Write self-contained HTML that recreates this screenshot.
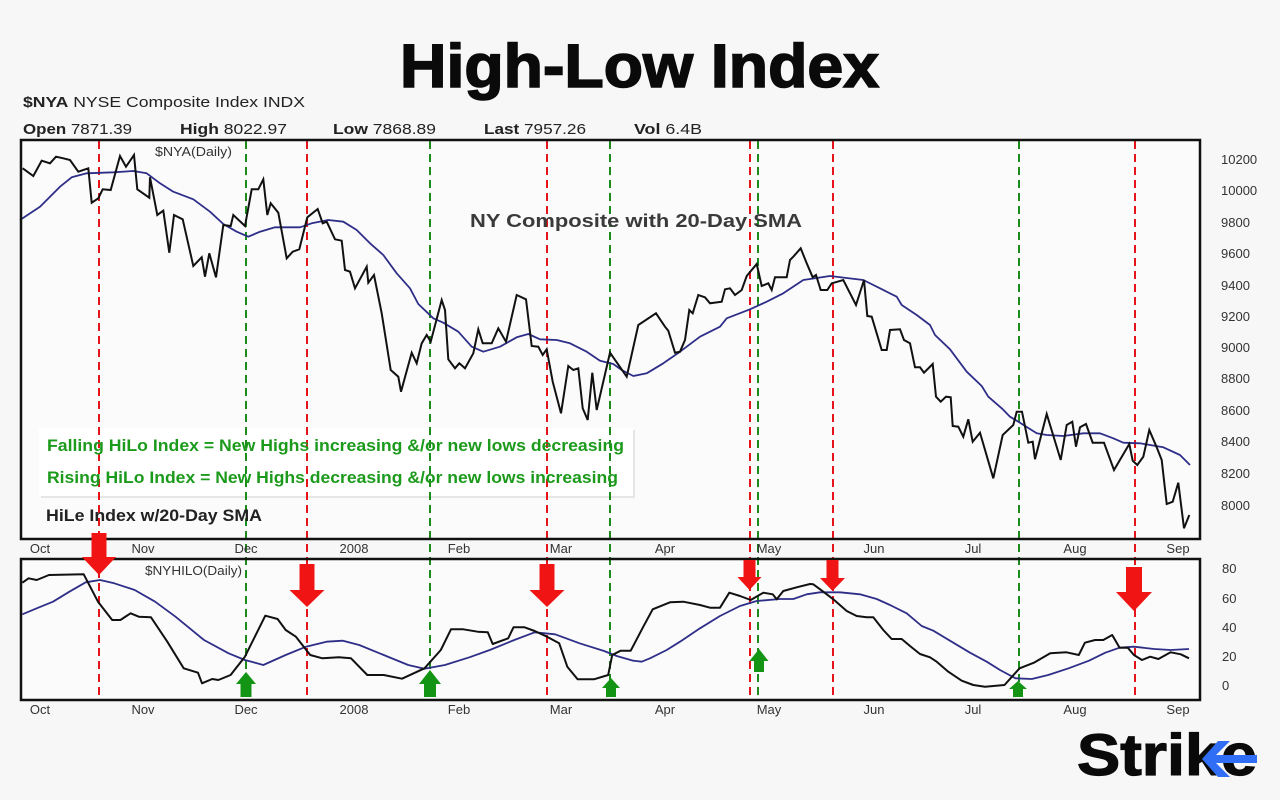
<!DOCTYPE html>
<html><head><meta charset="utf-8"><style>
html,body{margin:0;padding:0;background:#f7f7f8;}
svg{display:block;}
text{font-family:"Liberation Sans",Arial,sans-serif;}
</style></head><body>
<svg width="1280" height="800" viewBox="0 0 1280 800" xmlns="http://www.w3.org/2000/svg">
<rect x="0" y="0" width="1280" height="800" fill="#f7f7f8"/>
<!-- Title -->
<text x="400" y="87" font-size="61" font-weight="bold" fill="#0a0a0a" stroke="#0a0a0a" stroke-width="1.6" textLength="479" lengthAdjust="spacingAndGlyphs">High-Low Index</text>
<!-- Header -->
<text x="23" y="107" font-size="15" fill="#222" textLength="282" lengthAdjust="spacingAndGlyphs"><tspan font-weight="bold">$NYA</tspan> NYSE Composite Index INDX</text>
<text x="23" y="134" font-size="15" fill="#222" textLength="109" lengthAdjust="spacingAndGlyphs"><tspan font-weight="bold">Open</tspan> 7871.39</text>
<text x="180" y="134" font-size="15" fill="#222" textLength="107" lengthAdjust="spacingAndGlyphs"><tspan font-weight="bold">High</tspan> 8022.97</text>
<text x="333" y="134" font-size="15" fill="#222" textLength="103" lengthAdjust="spacingAndGlyphs"><tspan font-weight="bold">Low</tspan> 7868.89</text>
<text x="484" y="134" font-size="15" fill="#222" textLength="102" lengthAdjust="spacingAndGlyphs"><tspan font-weight="bold">Last</tspan> 7957.26</text>
<text x="634" y="134" font-size="15" fill="#222" textLength="68" lengthAdjust="spacingAndGlyphs"><tspan font-weight="bold">Vol</tspan> 6.4B</text>

<!-- chart backgrounds -->
<rect x="21" y="140" width="1179" height="399" fill="#fbfbfb"/>
<rect x="21" y="559" width="1179" height="141" fill="#fbfbfb"/>

<!-- legend box -->
<rect x="41" y="430" width="594" height="68" fill="#e6e6e6"/>
<rect x="39" y="428" width="594" height="68" fill="#ffffff"/>

<!-- dashed lines -->
<g stroke-width="2" stroke-dasharray="8 5" fill="none">
<line x1="99" y1="141" x2="99" y2="699" stroke="#e5141b"/>
<line x1="307" y1="141" x2="307" y2="699" stroke="#e5141b"/>
<line x1="547" y1="141" x2="547" y2="699" stroke="#e5141b"/>
<line x1="750" y1="141" x2="750" y2="699" stroke="#e5141b"/>
<line x1="833" y1="141" x2="833" y2="699" stroke="#e5141b"/>
<line x1="1135" y1="141" x2="1135" y2="699" stroke="#e5141b"/>
<line x1="246" y1="141" x2="246" y2="699" stroke="#1b8c1b"/>
<line x1="430" y1="141" x2="430" y2="699" stroke="#1b8c1b"/>
<line x1="610" y1="141" x2="610" y2="699" stroke="#1b8c1b"/>
<line x1="758" y1="141" x2="758" y2="699" stroke="#1b8c1b"/>
<line x1="1019" y1="141" x2="1019" y2="699" stroke="#1b8c1b"/>
</g>

<!-- top chart series -->
<polyline fill="none" stroke="#2e2e88" stroke-width="1.8" stroke-linejoin="round" points="20,220 40,206.7 60,186.7 71.7,177.3 86.7,173.3 113.3,172.3 133.3,171 146.7,173.3 160,183.3 173.3,191.7 193.3,199.3 210,211.7 223.3,224 236.7,231.7 248.3,236.7 260,231.7 275,227.3 300,227.3 311.7,223.3 328.3,220 343.3,221.7 356.7,230 370,243.3 383.3,255 396.7,273.3 410,288.3 418.3,304 433.3,318.3 443.3,322.7 458.3,331.7 471.7,346.7 483.3,351.7 500,346.7 516.7,337.3 528.3,334 540,339.3 556.7,340 570,343.3 586.7,351.7 600,360.7 613.3,364 621.7,370 633.3,376 646.7,373.3 663.3,363.3 680,351.7 700,336.7 720,326.7 726.7,318.3 750,309.3 766.7,301.7 783.3,293.3 803.3,280 830,276 863.3,280 880,288.3 896.7,296.7 901.7,305 916.7,315 930,325 935,335 950,349.3 966.7,371.7 981.7,386 988.3,396.7 1001.7,408.3 1010,416.7 1020,422.7 1036.7,433.3 1046.7,435 1063.3,436 1083.3,433.3 1100,433.3 1113.3,438.3 1123.3,442.7 1140,443.3 1163.3,447.3 1180,455 1190,465"/>
<polyline fill="none" stroke="#111" stroke-width="2" stroke-linejoin="miter" points="22.7,168.3 33.3,176 41.7,160.7 50,163.3 56,156.7 63.3,158.3 70,160 78.3,171.7 88.3,168.3 91.7,202.7 98.3,198.3 102.7,189.3 110.7,190 120,156 126,166.7 134,155 137.3,189.3 149.3,197.7 150,177.3 157.3,215 163.3,210.7 169.3,252.7 174,215 182.7,219.3 193.3,266 201.7,257.3 205,276.7 209.3,253.3 216,277.3 223.3,225 230.7,226 233.3,215 245,226 251.7,189.3 258.3,189.3 263.3,179.3 267.3,215 270.7,203.3 278.3,212.7 286.7,258.3 292.7,251.7 299.3,249.3 307.3,217.3 317.7,209 322.7,223.3 326.7,221.7 335,239.3 341.7,240.7 345,270 350,271.7 355,288.3 366.7,266.7 368.3,282.7 374,275 381.7,313.3 390.7,370 398.3,376.7 401,391.7 411.7,352.7 416.7,363.3 421.7,343.3 426.7,335 430.7,341.7 441.7,300 445,310 448.3,359.3 455,368.3 459.3,363.3 465,368.3 473.3,353.3 478.3,329.3 482.7,343.3 491.7,343.3 498.3,328.3 506,341.7 516.7,295 526,299.3 531.7,346 538.3,346.7 542.7,355 546.7,349.3 552.7,381.7 561,413.3 568.3,366 573.3,370 578.3,368.3 582.7,408.3 587.7,420 592.3,372.7 596.7,410 610,352.7 626.7,376.7 638.3,325 656,313.3 665,326.7 668.3,330.7 675,352.7 680,351.7 685,340 689.3,310 692.7,313.3 698.3,295 705,297.3 710,303.3 721.7,301.7 725,289.3 730,288.3 735,295 741.7,290 746.7,276 756.7,264 761.7,286 768.3,283.3 771.7,290 775,277.3 786.7,277.3 790,260 793.3,256.7 800.7,248.3 806.7,263.3 812.7,277.3 816,275 820.7,290 827.3,290 831.7,283.3 843.3,280 856,305 864,280 867.3,316 871.7,316.7 881.7,350 886.7,350 890,330 900,329.3 904,340 910,343.3 915,367.3 920,367.3 924,372.7 932.7,364 936,396.7 940.7,401.7 946,396.7 950.7,397.3 952.7,426 958.3,426.7 963.3,436.7 968.3,419.3 972.7,441.7 980,432.7 993.3,478.3 1002.7,435 1013.3,425 1016.7,411.7 1022,411.7 1028.3,442.7 1032.7,441.7 1035,459.3 1046.7,414 1060.7,460 1066.7,425 1072.3,421.7 1076,446.7 1080,427.3 1086,424 1092.7,442.7 1104,442.7 1114,470 1129.3,444 1132.7,460.7 1137.3,465 1143.3,456.7 1149.3,430 1156.7,447.3 1161.7,460 1166.7,504 1172.7,501.7 1178.3,482.7 1184,528.3 1189.3,515"/>

<!-- bottom chart series -->
<polyline fill="none" stroke="#2e2e88" stroke-width="1.8" stroke-linejoin="round" points="22.4,614.3 36.7,608.3 53,601.7 69.4,591.7 85.7,582.3 100,580 114.3,583.3 134.7,590 155.1,601.7 175.5,616.7 204,640 228.6,653.3 244.9,660 263.3,665 285.7,655 306,646.7 326.5,641.7 342.9,640.7 359.2,645 383.7,655 408.2,665 424.5,668.7 444.9,665 469.4,657.3 489.8,650 514.3,640 534.7,632.3 555.1,634.3 579.6,643.3 604.1,651 616.7,656 633.3,660.7 641.7,661.7 650,658.3 666.7,650 680,641.7 700,628.3 720,616 740,606 756.7,601 780,599 793.3,599 806.7,594.3 820,592.3 840,592.3 860,594.3 876.7,599 890,605 906.7,613.3 921.7,626 933.3,630.7 953.3,642.7 970,652.7 986.7,661.7 1000,670 1015.5,678.3 1031.8,679 1048.2,675 1068.6,668.3 1089,660.7 1105.3,652.7 1119.6,647.7 1133.9,646.7 1154.3,649 1170.6,650 1189,649"/>
<polyline fill="none" stroke="#111" stroke-width="2" stroke-linejoin="round" points="22.4,582.7 28.6,578.3 36.7,580 49,575 83.7,574.3 98,601.7 112.2,620 120.4,620 130.6,613.3 138.8,616.7 151,617.3 167.3,641.7 183.7,668.3 198,672.7 202,683.3 212.2,679 218.4,680 230.6,675 244.9,656.7 265.3,615.7 277.6,619 285.7,630 295.9,636.7 310.2,655 322.4,658.3 338.8,657.3 351,658.3 367.3,675 383.7,675 402,678.7 424.5,668.3 440.8,650 451,629.3 463.3,629.3 477.6,631.7 487.8,632.3 492.7,644 508.2,638.3 513.5,627.3 524.5,627.3 534.7,631 547,636.7 559.2,643.3 567.3,666.7 577.6,679.3 593.9,679.3 608.2,675 612.2,655 620.7,650.7 630.7,650.7 643.3,626.7 652.7,609.3 670,602.3 683.3,601.7 700,605 710,607.7 720,607.7 729.3,592.7 740,596 750.7,600 763.3,592.7 772.7,594.3 776.7,599.3 783.3,591 796.7,587.3 810,584 813.3,584.3 823.3,591.7 833.3,599.3 846.7,611 856.7,616 866.7,617.3 873.3,617.3 883.3,630 891.7,639 901.7,639 910,646 920,654 930,657.3 936.7,661.7 948.3,671.7 961.7,680.7 973.3,685 985,686.7 1004.5,685 1019.6,668.3 1033.9,662.7 1050.2,653.3 1066.5,652.3 1078.8,655 1084.9,642.7 1095.1,640 1103.3,640 1112.2,635 1119.6,647.7 1127.8,647.7 1133.9,655 1142,660 1150.2,656.7 1158.4,659 1170.6,652.3 1180.8,654.3 1189,658.3"/>

<!-- frames -->
<rect x="21" y="140" width="1179" height="399" fill="none" stroke="#111" stroke-width="2.5"/>
<rect x="21" y="559" width="1179" height="141" fill="none" stroke="#111" stroke-width="2.5"/>

<!-- in-chart labels -->
<text x="155" y="156" font-size="12.5" fill="#333" textLength="77" lengthAdjust="spacingAndGlyphs">$NYA(Daily)</text>
<text x="470" y="227" font-size="18" font-weight="bold" fill="#3a3a3a" textLength="332" lengthAdjust="spacingAndGlyphs">NY Composite with 20-Day SMA</text>
<text x="47" y="451" font-size="16.5" font-weight="bold" fill="#1c9a1c" textLength="577" lengthAdjust="spacingAndGlyphs">Falling HiLo Index = New Highs increasing &amp;/or new lows decreasing</text>
<text x="47" y="483" font-size="16.5" font-weight="bold" fill="#1c9a1c" textLength="571" lengthAdjust="spacingAndGlyphs">Rising HiLo Index = New Highs decreasing &amp;/or new lows increasing</text>
<text x="46" y="521" font-size="16.5" font-weight="bold" fill="#222" textLength="216" lengthAdjust="spacingAndGlyphs">HiLe Index w/20-Day SMA</text>
<text x="145" y="575" font-size="12.5" fill="#333" textLength="97" lengthAdjust="spacingAndGlyphs">$NYHILO(Daily)</text>

<!-- right axis -->
<g font-size="13" fill="#333">
<text x="1221" y="164">10200</text>
<text x="1221" y="195">10000</text>
<text x="1221" y="227">9800</text>
<text x="1221" y="258">9600</text>
<text x="1221" y="290">9400</text>
<text x="1221" y="321">9200</text>
<text x="1221" y="352">9000</text>
<text x="1221" y="383">8800</text>
<text x="1221" y="415">8600</text>
<text x="1221" y="446">8400</text>
<text x="1221" y="478">8200</text>
<text x="1221" y="510">8000</text>
<text x="1222" y="573">80</text>
<text x="1222" y="603">60</text>
<text x="1222" y="632">40</text>
<text x="1222" y="661">20</text>
<text x="1222" y="690">0</text>
</g>

<!-- x axis labels -->
<g font-size="13" fill="#333" text-anchor="middle">
<text x="40" y="553">Oct</text><text x="143" y="553">Nov</text><text x="246" y="553">Dec</text><text x="354" y="553">2008</text><text x="459" y="553">Feb</text><text x="561" y="553">Mar</text><text x="665" y="553">Apr</text><text x="769" y="553">May</text><text x="874" y="553">Jun</text><text x="973" y="553">Jul</text><text x="1075" y="553">Aug</text><text x="1178" y="553">Sep</text>
<text x="40" y="714">Oct</text><text x="143" y="714">Nov</text><text x="246" y="714">Dec</text><text x="354" y="714">2008</text><text x="459" y="714">Feb</text><text x="561" y="714">Mar</text><text x="665" y="714">Apr</text><text x="769" y="714">May</text><text x="874" y="714">Jun</text><text x="973" y="714">Jul</text><text x="1075" y="714">Aug</text><text x="1178" y="714">Sep</text>
</g>

<!-- red down arrows -->
<g fill="#f01414">
<polygon points="91.5,533 106.5,533 106.5,557 116,557 99,575 82,557 91.5,557"/>
<polygon points="299.5,564 314.5,564 314.5,590 324.5,590 307,607 289.5,590 299.5,590"/>
<polygon points="539.5,564 554.5,564 554.5,590 564.5,590 547,607 529.5,590 539.5,590"/>
<polygon points="743.5,560 755.5,560 755.5,577 761.5,577 749.5,590 737.5,577 743.5,577"/>
<polygon points="826.5,560 838.5,560 838.5,578 845,578 832.5,591 820,578 826.5,578"/>
<polygon points="1126,567 1142,567 1142,592 1152,592 1134,611 1116,592 1126,592"/>
</g>
<!-- green up arrows -->
<g fill="#149414">
<polygon points="246,672 256,684 251.5,684 251.5,697 240.5,697 240.5,684 236,684"/>
<polygon points="430,670 441,684 436,684 436,697 424,697 424,684 419,684"/>
<polygon points="611,678 620,688 616,688 616,697 606,697 606,688 602,688"/>
<polygon points="759,649 768.5,661 764,661 764,672 754,672 754,661 749.5,661"/>
<polygon points="1018,681 1027,689 1023,689 1023,697 1013,697 1013,689 1009,689"/>
</g>

<!-- Strike logo -->
<text x="1077" y="775" font-size="58" font-weight="bold" fill="#0a0a0a" stroke="#0a0a0a" stroke-width="1.2" textLength="180" lengthAdjust="spacingAndGlyphs">Strike</text>
<polygon fill="#2f6ef5" points="1202,759 1218,741 1230,741 1216,755 1257,755 1257,763 1216,763 1230,777 1218,777"/>
</svg>
</body></html>
